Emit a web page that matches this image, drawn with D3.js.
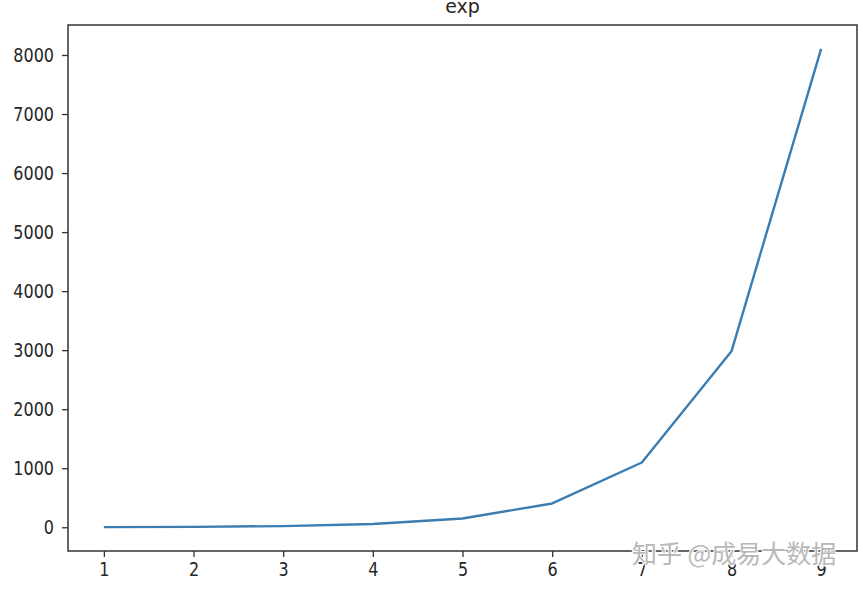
<!DOCTYPE html>
<html>
<head>
<meta charset="utf-8">
<script src="https://cdn.jsdelivr.net/npm/d3@7"></script>
<style>
  body { margin: 0; background: #fff; }
  svg text { font-family: "DejaVu Sans", sans-serif; }
</style>
</head>
<body>
<script>
// values
var xs = [1, 2, 3, 4, 5, 6, 7, 8, 9];
var ys = [2.7, 7.4, 20.1, 54.6, 148.4, 403.4, 1096.6, 2981.0, 8103.1];
var yTicks = [0, 1000, 2000, 3000, 4000, 5000, 6000, 7000, 8000];
var title = "exp";
var watermark = "知乎 @成易大数据";

var width = 865, height = 589;
var plotLeft = 68, plotRight = 857, plotTop = 25, plotBottom = 551;

var svg = d3.select("body").append("svg")
  .attr("width", width)
  .attr("height", height);

var x = d3.scaleLinear().domain([0.6, 9.4]).range([plotLeft, plotRight]);
var y = d3.scaleLinear().domain([-402, 8508]).range([plotBottom, plotTop]);

// line
var line = d3.line()
  .x(function (d, i) { return x(xs[i]); })
  .y(function (d) { return y(d); });

svg.append("path")
  .datum(ys)
  .attr("d", line)
  .attr("fill", "none")
  .attr("stroke", "#3b7db1")
  .attr("stroke-width", 2.4)
  .attr("stroke-linejoin", "round");

// axes
var xAxis = d3.axisBottom(x).tickValues(xs).tickSize(6).tickPadding(3).tickFormat(d3.format("d"));
var yAxis = d3.axisLeft(y).tickValues(yTicks).tickSize(6).tickPadding(8).tickFormat(d3.format("d"));

var gx = svg.append("g").attr("transform", "translate(0," + plotBottom + ")").call(xAxis);
var gy = svg.append("g").attr("transform", "translate(" + plotLeft + ",0)").call(yAxis);

// the source image is a little stretched vertically
[gx, gy].forEach(function (g) {
  g.select(".domain").remove();
  g.selectAll("line").attr("stroke", "#333").attr("stroke-width", 1.3);
  g.selectAll("text")
    .attr("fill", "#262626")
    .attr("transform", "scale(1,1.22)")
    .style("font-size", "16px");
});

// frame
svg.append("rect")
  .attr("x", plotLeft)
  .attr("y", plotTop)
  .attr("width", plotRight - plotLeft)
  .attr("height", plotBottom - plotTop)
  .attr("fill", "none")
  .attr("stroke", "#333")
  .attr("stroke-width", 1.5);

// title
svg.append("text")
  .attr("x", (plotLeft + plotRight) / 2)
  .attr("y", 13)
  .attr("text-anchor", "middle")
  .attr("fill", "#262626")
  .style("font-size", "19px")
  .text(title);

// watermark
svg.append("text")
  .attr("x", 632)
  .attr("y", 563)
  .attr("fill", "#b8b8b8")
  .attr("stroke", "#fff")
  .attr("stroke-width", 2)
  .attr("paint-order", "stroke")
  .style("font-family", "'Noto Sans CJK SC', sans-serif")
  .style("font-size", "25px")
  .text(watermark);
</script>
</body>
</html>
